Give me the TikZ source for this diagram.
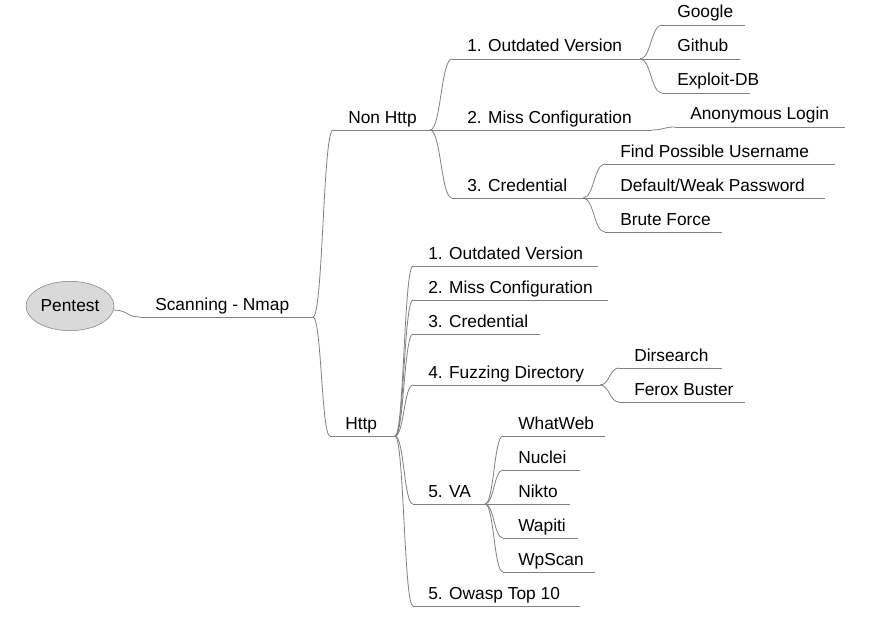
\documentclass[tikz,border=0pt]{standalone}
\usepackage{fontspec}
\setmainfont{Liberation Sans}
\usetikzlibrary{calc,shapes.geometric}
\definecolor{ln}{HTML}{808080}
\tikzset{x=0.75pt,y=0.75pt,
 lbl/.style={anchor=base west,inner sep=0pt,font=\fontsize{13}{15}\selectfont},
 ul/.style={draw=ln,line width=0.6pt},
 cn/.style={draw=ln,line width=0.6pt}}
\newcommand{\topic}[5]{%
 \coordinate (#1-s) at (#2,-#4);
 \coordinate (#1-e) at (#3,-#4);
 \node[lbl] (#1) at (#2+15,-#4+7) {#5};
 \path[ul] (#1-s) -- (#1-e);}
\newcommand{\conn}[2]{%
 \path[cn] let \p1=(#1-e),\p2=(#2-s) in (\p1) .. controls ({0.5*\x1+0.5*\x2},\y1) and ({0.5*\x1+0.5*\x2},\y2) .. (\p2);}
\begin{document}
\begin{tikzpicture}
\useasboundingbox (0,0) rectangle (890,-617);
\node[ellipse,draw=ln,fill=black!15,minimum width=66pt,minimum height=37pt,inner sep=0pt,font=\fontsize{13}{15}\selectfont] (pentest) at (70,-306) {Pentest};
\coordinate (pentest-e) at (114,-310);
\topic{scan}{140}{313}{317}{Scanning - Nmap}
\topic{non}{333}{430}{130}{Non Http}
\topic{http}{330}{395}{436}{Http}
\topic{no1}{452}{640}{59}{1. Outdated Version}
\topic{no2}{452}{652}{130}{2. Miss Configuration}
\topic{no3}{452}{583}{198}{3. Credential}
\topic{goo}{662}{745}{25}{Google}
\topic{git}{662}{740}{59}{Github}
\topic{edb}{662}{750}{93}{Exploit-DB}
\topic{anon}{675}{845}{127}{Anonymous Login}
\topic{fpu}{605}{835}{164}{Find Possible Username}
\topic{dwp}{605}{825}{198}{Default/Weak Password}
\topic{bf}{605}{722}{232}{Brute Force}
\topic{h1}{413}{598}{266}{1. Outdated Version}
\topic{h2}{413}{608}{300}{2. Miss Configuration}
\topic{h3}{413}{540}{334}{3. Credential}
\topic{h4}{413}{600}{385}{4. Fuzzing Directory}
\topic{h5}{413}{485}{504}{5. VA}
\topic{h6}{413}{580}{606}{5. Owasp Top 10}
\topic{dir}{619}{722}{368}{Dirsearch}
\topic{fer}{619}{745}{402}{Ferox Buster}
\topic{ww}{503}{605}{436}{WhatWeb}
\topic{nuc}{503}{580}{470}{Nuclei}
\topic{nik}{503}{570}{504}{Nikto}
\topic{wap}{503}{578}{538}{Wapiti}
\topic{wps}{503}{595}{572}{WpScan}
\conn{pentest}{scan}
\conn{scan}{non}\conn{scan}{http}
\conn{non}{no1}\conn{non}{no2}\conn{non}{no3}
\conn{no1}{goo}\conn{no1}{git}\conn{no1}{edb}
\conn{no2}{anon}
\conn{no3}{fpu}\conn{no3}{dwp}\conn{no3}{bf}
\conn{http}{h1}\conn{http}{h2}\conn{http}{h3}\conn{http}{h4}\conn{http}{h5}\conn{http}{h6}
\conn{h4}{dir}\conn{h4}{fer}
\conn{h5}{ww}\conn{h5}{nuc}\conn{h5}{nik}\conn{h5}{wap}\conn{h5}{wps}
\end{tikzpicture}
\end{document}
